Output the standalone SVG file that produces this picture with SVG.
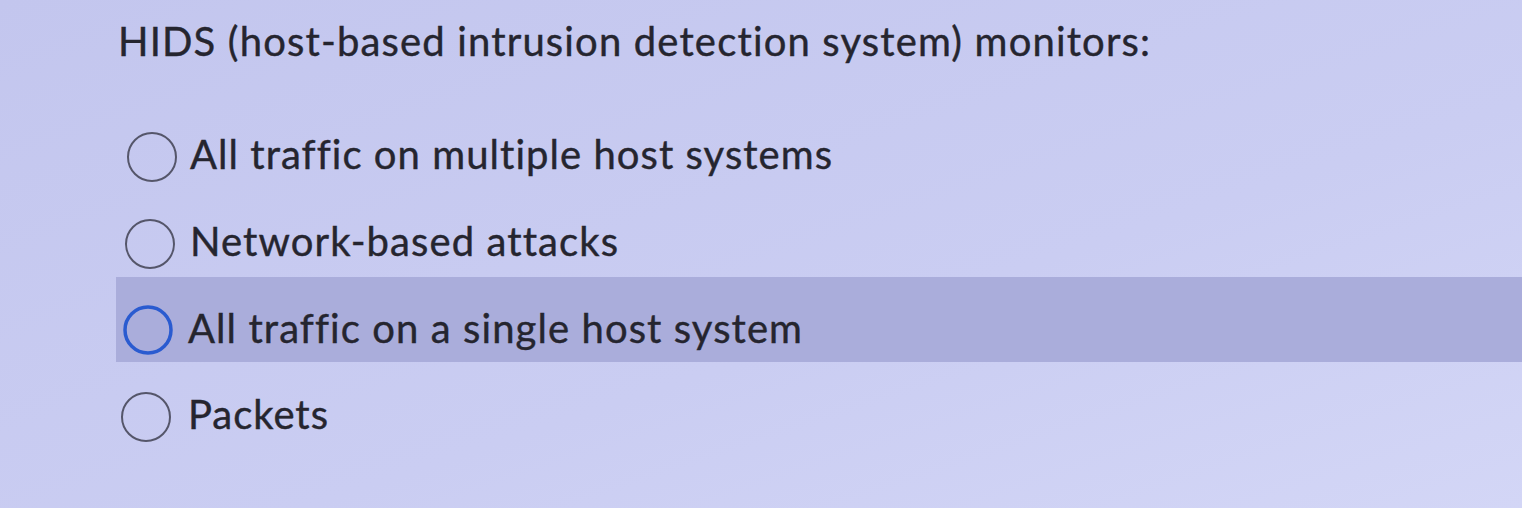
<svg xmlns="http://www.w3.org/2000/svg" width="1522" height="508" viewBox="0 0 1522 508">
<defs>
<linearGradient id="bg" x1="0" y1="0" x2="1" y2="1">
<stop offset="0" stop-color="#c3c6ee"/>
<stop offset="0.6" stop-color="#cacdf2"/>
<stop offset="1" stop-color="#d3d6f6"/>
</linearGradient>
<style>
.t{font-family:Lato,"Open Sans",sans-serif;font-size:40px;fill:#25252f;font-variant-ligatures:none;stroke:#25252f;stroke-width:0.4}
.r{fill:none;stroke:#55566a;stroke-width:2}
</style>
</defs>
<rect width="1522" height="508" fill="url(#bg)"/>
<rect x="116" y="277" width="1406" height="85" fill="#aaaddb"/>
<text class="t" x="118" y="56" textLength="1032" lengthAdjust="spacing">HIDS (host-based intrusion detection system) monitors:</text>
<g id="opt1"><circle class="r" cx="152" cy="157" r="24"/><text class="t" x="190" y="169" textLength="642" lengthAdjust="spacing">All traffic on multiple host systems</text></g>
<g id="opt2"><circle class="r" cx="150" cy="244" r="24"/><text class="t" x="190" y="256" textLength="428" lengthAdjust="spacing">Network-based attacks</text></g>
<g id="opt3"><circle cx="148" cy="330" r="23" fill="none" stroke="#2a5bd0" stroke-width="3.5"/><text class="t" x="188" y="343" textLength="614" lengthAdjust="spacing">All traffic on a single host system</text></g>
<g id="opt4"><circle class="r" cx="146" cy="417" r="24"/><text class="t" x="188" y="429" textLength="140" lengthAdjust="spacing">Packets</text></g>
</svg>
